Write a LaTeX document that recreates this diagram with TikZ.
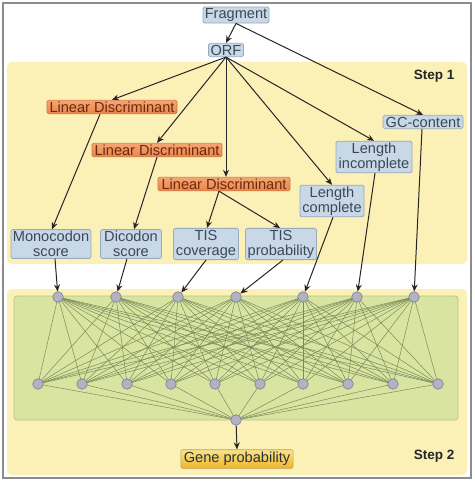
\documentclass[tikz,border=0pt]{standalone}
\usepackage{fontspec}
\setmainfont{Liberation Sans}
\usetikzlibrary{arrows.meta}
\definecolor{panel}{HTML}{FBF0B6}
\definecolor{netgreen}{HTML}{D8E4A0}
\definecolor{netborder}{HTML}{B4C48A}
\definecolor{bluefill}{HTML}{C8D8E6}
\definecolor{blueedge}{HTML}{98AABB}
\definecolor{bluetext}{HTML}{3A4858}
\definecolor{orangetop}{HTML}{F5A673}
\definecolor{orangebot}{HTML}{EA8448}
\definecolor{orangeedge}{HTML}{C87A48}
\definecolor{orangetext}{HTML}{6A2A12}
\definecolor{goldtop}{HTML}{FAE48A}
\definecolor{goldbot}{HTML}{F0B424}
\definecolor{goldedge}{HTML}{BFA060}
\definecolor{neuronfill}{HTML}{B2B2C2}
\definecolor{neuronedge}{HTML}{84849A}
\definecolor{wire}{HTML}{7A8A5E}
\tikzset{
  bluebox/.style={draw=blueedge, fill=bluefill, text=bluetext, rounded corners=1.5pt,
    line width=0.8pt, inner xsep=1.5pt, inner ysep=1.5pt, align=center,
    font=\fontsize{14.6}{15}\selectfont},
  ldbox/.style={draw=orangeedge, top color=orangetop, bottom color=orangebot, text=orangetext,
    rounded corners=1.5pt, line width=0.6pt, inner xsep=2pt, inner ysep=1.5pt,
    font=\fontsize{14.6}{15}\selectfont},
  genebox/.style={draw=goldedge, top color=goldtop, bottom color=goldbot, text=bluetext!70!black,
    rounded corners=2pt, line width=0.6pt, inner xsep=3pt, inner ysep=2.5pt,
    font=\fontsize{14.6}{15}\selectfont},
  neuron/.style={circle, draw=neuronedge, fill=neuronfill, line width=0.7pt,
    minimum size=10.5pt, inner sep=0pt},
  arr/.style={-{Stealth[length=7pt,width=6pt]}, line width=1pt, draw=black!85},
  netwire/.style={draw=wire, line width=0.5pt},
  steplabel/.style={font=\bfseries\fontsize{13.5}{14}\selectfont, text=black!85, anchor=east},
}
\begin{document}
\begin{tikzpicture}[x=1pt,y=-1pt]
\useasboundingbox (0,0) rectangle (474,481);
\fill[white] (0,0) rectangle (474,481);
% outer frame
\draw[black!45, line width=1.3pt] (3,3) rectangle (471,478);
% panels
\fill[panel, rounded corners=5pt] (7,62) rectangle (467,264);
\fill[panel, rounded corners=5pt] (7,289) rectangle (467,475);
\draw[netborder, fill=netgreen, rounded corners=3pt, line width=0.8pt] (14,296) rectangle (458,420);
\node[steplabel] (s1) at (458,76) {Step 1};
\node[steplabel] (s2) at (458,456) {Step 2};

% step 1 nodes
\node[bluebox, minimum width=66pt] (frag) at (236,15) {Fragment};
\node[bluebox, minimum width=35pt] (orf) at (226,50) {ORF};
\node[ldbox, minimum width=130pt] (ld1) at (112,107) {Linear Discriminant};
\node[ldbox, minimum width=130pt] (ld2) at (157,150) {Linear Discriminant};
\node[ldbox, minimum width=132pt] (ld3) at (224,184) {Linear Discriminant};
\node[bluebox, minimum width=80pt] (gc) at (423,122) {GC-content};
\node[bluebox, minimum width=76pt] (linc) at (374,157) {Length\\incomplete};
\node[bluebox, minimum width=64pt] (lcomp) at (332,201) {Length\\complete};
\node[bluebox, minimum width=80pt] (mono) at (51,244) {Monocodon\\score};
\node[bluebox, minimum width=61pt] (dico) at (131,244) {Dicodon\\score};
\node[bluebox, minimum width=65pt] (tcov) at (206,244) {TIS\\coverage};
\node[bluebox, minimum width=71pt] (tprob) at (281,244) {TIS\\probability};

% network
\foreach \x [count=\i] in {58,116,178,236,303,357,414}
  \coordinate (ic\i) at (\x,297);
\foreach \x [count=\j] in {38,82,127,171,215,260,303,348,393,438}
  \coordinate (hc\j) at (\x,384);
\coordinate (oc) at (236,420);
\foreach \i in {1,...,7}
  \foreach \j in {1,...,10}
    \draw[netwire] (ic\i) -- (hc\j);
\foreach \j in {1,...,10}
  \draw[netwire] (hc\j) -- (oc);
\foreach \i in {1,...,7}
  \node[neuron] (in\i) at (ic\i) {};
\foreach \j in {1,...,10}
  \node[neuron] (hid\j) at (hc\j) {};
\node[neuron] (out) at (oc) {};
\node[genebox, minimum width=110pt] (gene) at (237,459) {Gene probability};

% arrows
\draw[arr] (frag.south) -- (orf.north);
\draw[arr] (frag.south) -- (gc.north);
\draw[arr] (orf.south) -- (ld1.north);
\draw[arr] (orf.south) -- (ld2.north);
\draw[arr] (orf.south) -- (orf.south |- ld3.north);
\draw[arr] (orf.south) -- (lcomp.north);
\draw[arr] (orf.south) -- (linc.north);
\draw[arr] ([xshift=-12pt]ld1.south) -- ([xshift=1pt]mono.north);
\draw[arr] ([xshift=0pt]ld2.south) -- ([xshift=3pt]dico.north);
\draw[arr] ([xshift=-5pt]ld3.south) -- ([xshift=1pt]tcov.north);
\draw[arr] ([xshift=-5pt]ld3.south) -- ([xshift=-1pt]tprob.north);
\draw[arr] ([xshift=-1pt]gc.south) -- (in7);
\draw[arr] ([xshift=1pt]linc.south) -- (in6);
\draw[arr] ([xshift=1pt]lcomp.south) -- (in5);
\draw[arr] ([xshift=2pt]tprob.south) -- (in4);
\draw[arr] (tcov.south) -- (in3);
\draw[arr] ([xshift=-4pt]dico.south) -- (in2);
\draw[arr] ([xshift=4pt]mono.south) -- (in1);
\draw[arr] (out) -- (gene.north);
\end{tikzpicture}
\end{document}
